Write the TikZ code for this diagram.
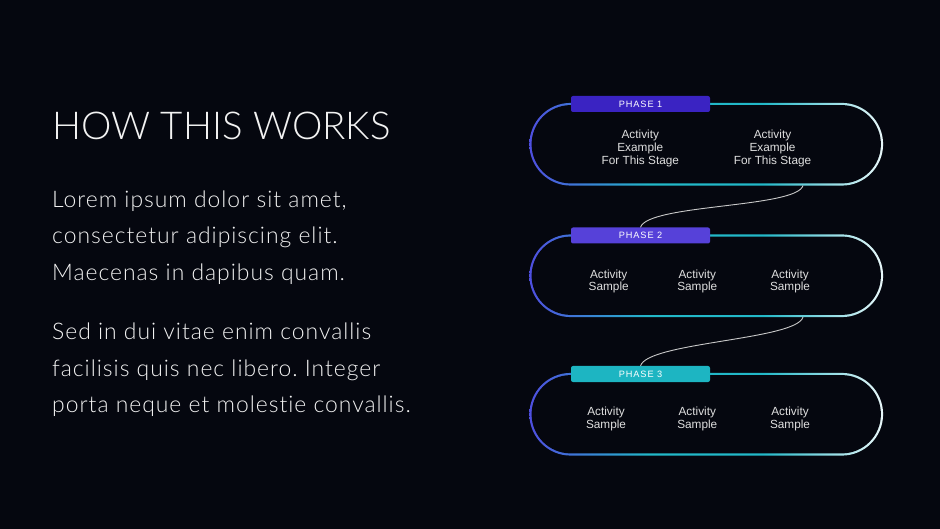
\documentclass[tikz,border=0pt]{standalone}
\usepackage{fontspec}
\IfFontExistsTF{Lato Light}{\setmainfont{Lato Light}[Ligatures={NoCommon,NoRare,NoContextual}]}{\setmainfont{Lato}[Ligatures={NoCommon,NoRare,NoContextual}]}
\newfontfamily\bodyf[LetterSpace=4.3,Ligatures={NoCommon,NoRare,NoContextual}]{Lato}
\IfFontExistsTF{Lato Light}{\renewfontfamily\bodyf[LetterSpace=4.3,Ligatures={NoCommon,NoRare,NoContextual}]{Lato Light}}{}
\newfontfamily\arialf{Liberation Sans}
\newfontfamily\phasef[LetterSpace=10]{Liberation Sans}
\frenchspacing
\usetikzlibrary{shapes.misc}
\definecolor{bg}{HTML}{05070F}
\definecolor{ringA}{HTML}{4F4FE0}
\definecolor{ringB}{HTML}{22B8C8}
\definecolor{ringC}{HTML}{EAF8FA}
\definecolor{ph1}{HTML}{3A23C2}
\definecolor{ph2}{HTML}{5641D9}
\definecolor{ph3}{HTML}{1DB5C2}
\definecolor{txt}{HTML}{F2F2F2}
\definecolor{conn}{HTML}{C8C8C8}
\pgfdeclarehorizontalshading{ringshade}{100bp}{color(0bp)=(ringA); color(25bp)=(ringA); color(42bp)=(ringB); color(58bp)=(ringB); color(75bp)=(ringC); color(100bp)=(ringC)}
\tikzset{
  pillout/.style={rounded rectangle, inner sep=0pt, minimum width=353.7pt, minimum height=82.7pt, shading=ringshade, draw=none},
  pillin/.style={rounded rectangle, inner sep=0pt, minimum width=349.3pt, minimum height=78.3pt, fill=bg, draw=none},
  phase/.style={rectangle, rounded corners=2pt, inner sep=0pt, minimum width=139pt, minimum height=16pt, text=white, font=\phasef\fontsize{9.2pt}{10pt}\selectfont},
  act/.style={align=center, inner sep=0pt, text=txt!92!black, font=\arialf\fontsize{11.8pt}{12.6pt}\selectfont},
  lefttxt/.style={anchor=base west, inner sep=0pt, text=txt, font=\bodyf\frenchspacing\fontsize{22.9pt}{27pt}\selectfont},
  conline/.style={draw=conn, line width=0.9pt}
}
\begin{document}
\begin{tikzpicture}[x=1pt,y=-1pt]
\fill[bg] (0,0) rectangle (940,529);
\useasboundingbox (0,0) rectangle (940,529);
% title and body
\node[lefttxt, font=\rmfamily\fontsize{38.4pt}{40pt}\selectfont] (title) at (52,139.3) {HOW THIS WORKS};
\node[lefttxt] (b1) at (52,207.3) {Lorem ipsum dolor sit amet,};
\node[lefttxt] (b2) at (52,244) {consectetur adipiscing elit.};
\node[lefttxt] (b3) at (52,280.5) {Maecenas in dapibus quam.};
\node[lefttxt] (b4) at (52,339.3) {Sed in dui vitae enim convallis};
\node[lefttxt] (b5) at (52,376) {facilisis quis nec libero. Integer};
\node[lefttxt] (b6) at (52,412.5) {porta neque et molestie convallis.};
% pills
\node[pillout] (p1) at (706.25,144.25) {};
\node[pillin] (q1) at (p1) {};
\node[pillout] (p2) at (706.25,275.75) {};
\node[pillin] (q2) at (p2) {};
\node[pillout] (p3) at (706.25,414.25) {};
\node[pillin] (q3) at (p3) {};
% phase labels
\node[phase, fill=ph1] (l1) at (640.5,104) {PHASE 1};
\node[phase, fill=ph2] (l2) at (640.5,235.5) {PHASE 2};
\node[phase, fill=ph3] (l3) at (640.5,374) {PHASE 3};
% activities
\node[act] (a11) at (640.3,148.5) {Activity\\Example\\For This Stage};
\node[act] (a12) at (772.5,148.5) {Activity\\Example\\For This Stage};
\node[act] (a21) at (608.7,281.5) {Activity\\Sample};
\node[act] (a22) at (697.3,281.5) {Activity\\Sample};
\node[act] (a23) at (790,281.5) {Activity\\Sample};
\node[act] (a31) at (606,419) {Activity\\Sample};
\node[act] (a32) at (697.3,419) {Activity\\Sample};
\node[act] (a33) at (790,419) {Activity\\Sample};
% connectors
\coordinate (c1) at (803,185.5);
\coordinate (c2) at (803,317);
\draw[conline] (c1) .. controls (797,208) and (648,204) .. (l2.north);
\draw[conline] (c2) .. controls (797,340) and (648,342) .. (l3.north);
\end{tikzpicture}
\end{document}
